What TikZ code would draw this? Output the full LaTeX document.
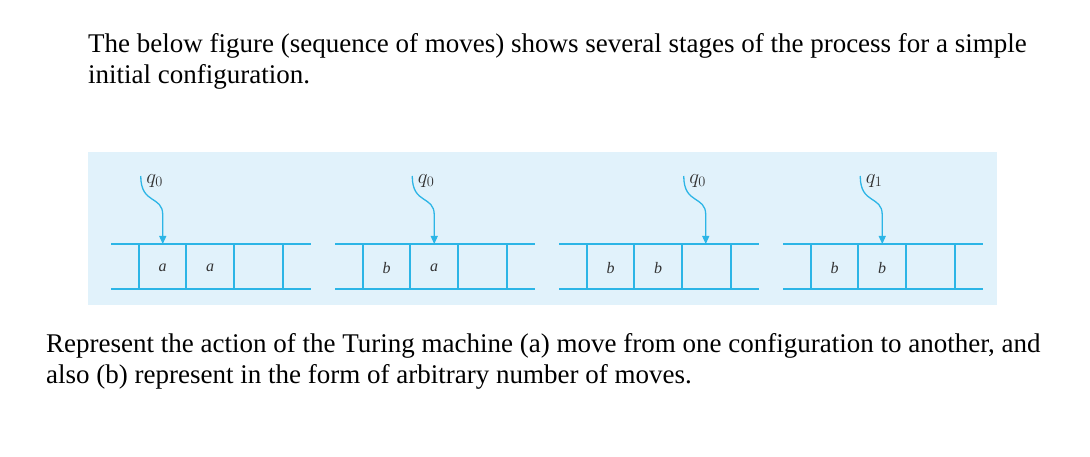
\documentclass[tikz,border=0pt]{standalone}
\usepackage{fontspec}
\setmainfont{Liberation Serif}
\usetikzlibrary{arrows.meta}
\definecolor{bg}{HTML}{E1F2FB}
\definecolor{tl}{HTML}{2CB5E6}
\definecolor{tx}{HTML}{333333}
\begin{document}
\begin{tikzpicture}[x=1pt,y=-1pt,
  tline/.style={draw=tl,line width=1.3pt},
  sym/.style={font=\fontsize{16}{16}\selectfont\itshape,text=tx},
  qlab/.style={font=\fontsize{22}{22}\selectfont,text=tx,anchor=west},
  head/.style={draw=tl,line width=1.3pt,-{Triangle[length=8pt,width=7pt]}},
  para/.style={font=\fontsize{27}{31}\selectfont,anchor=north west,align=left,inner sep=0pt}]
\useasboundingbox (0,0) rectangle (1090,457);
\node[para] (t1) at (88,33) {The below figure (sequence of moves) shows several stages of the process for a simple\\initial configuration.};
\node[para] (t2) at (46,333) {Represent the action of the Turing machine (a) move from one configuration to another, and\\also (b) represent in the form of arbitrary number of moves.};
\fill[bg] (88,152) rectangle (997,305);
\foreach \i/\sa/\sb/\hc/\q in {0/a/a/1/q_0,1/b/a/2/q_0,2/b/b/3/q_0,3/b/b/2/q_1}{
  \begin{scope}[xshift=\i*224]
    \draw[tline] (111,244) -- (311,244);
    \draw[tline] (111,289) -- (311,289);
    \foreach \x in {139,186,234,283} \draw[tline] (\x,244) -- (\x,289);
    \node[sym] (sa\i) at (162.5,268) {\sa};
    \node[sym] (sb\i) at (210,268) {\sb};
    \pgfmathsetmacro{\hx}{139+(\hc-0.5)*47.5}
    \coordinate (hs\i) at (\hx-22,176);
    \coordinate (he\i) at (\hx,244);
    \node[qlab] (q\i) at (\hx-20,181) {$\q$};
    \draw[head] (hs\i) .. controls (\hx-22,205) and (\hx,195) .. (\hx,215) -- (he\i);
  \end{scope}
}
\end{tikzpicture}
\end{document}
